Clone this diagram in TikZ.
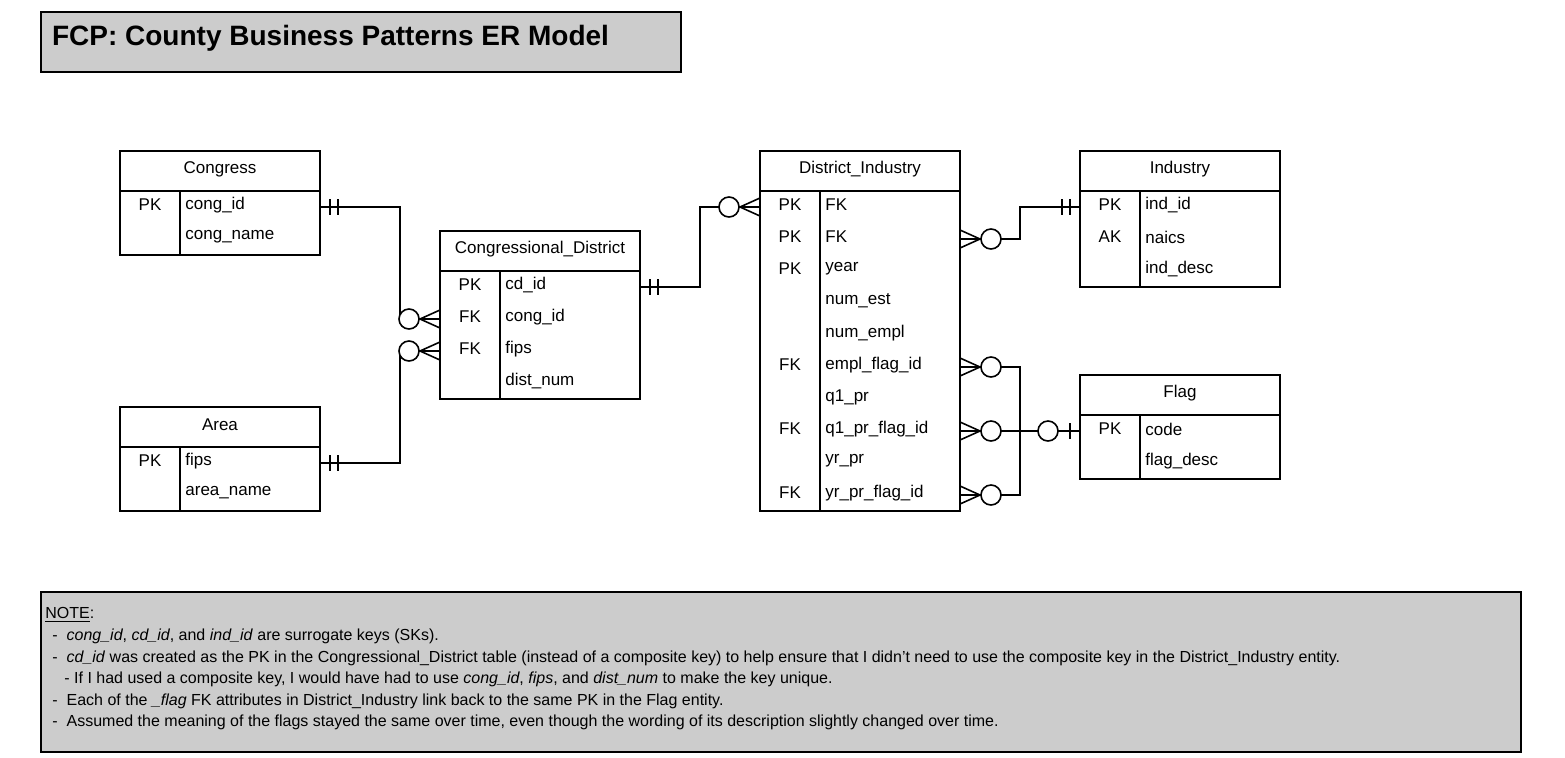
\documentclass[tikz,border=0pt]{standalone}
\usepackage{fontspec}
\setmainfont{Liberation Sans}
\begin{document}
\begin{tikzpicture}[x=0.5pt,y=-0.5pt,
  box/.style={draw,line width=1pt},
  txt/.style={font=\fontsize{8.5}{10}\selectfont,inner sep=0pt},
  lnk/.style={line width=0.8pt},
  ring/.style={draw,fill=white,line width=0.8pt}]
\useasboundingbox (0,0) rectangle (1565,757);
% title and note
\node[box,fill=black!20,minimum width=320pt,minimum height=30pt,anchor=north west] (title) at (40,11) {};
\node[anchor=west,font=\bfseries\fontsize{14}{16}\selectfont] at (45,38) {FCP: County Business Patterns ER Model};
\node[box,fill=black!20,minimum width=740pt,minimum height=80pt,anchor=north west] (note) at (40,591) {};
\begin{scope}[every node/.style={anchor=west,font=\fontsize{8}{10}\selectfont,inner sep=0pt}]
\node at (45,615) {\underline{NOTE}:};
\node at (52,636) {-\ \ \textit{cong\_id}, \textit{cd\_id}, and \textit{ind\_id} are surrogate keys (SKs).};
\node at (52,658) {-\ \ \textit{cd\_id} was created as the PK in the Congressional\_District table (instead of a composite key) to help ensure that I didn't need to use the composite key in the District\_Industry entity.};
\node at (64,679) {- If I had used a composite key, I would have had to use \textit{cong\_id}, \textit{fips}, and \textit{dist\_num} to make the key unique.};
\node at (52,701) {-\ \ Each of the \textit{\_flag} FK attributes in District\_Industry link back to the same PK in the Flag entity.};
\node at (52,722) {-\ \ Assumed the meaning of the flags stayed the same over time, even though the wording of its description slightly changed over time.};
\end{scope}
% tables: \ert{x}{ytop}{name}{rows key/attr}
\newcommand\ert[4]{%
  \draw[box,fill=white] (#1,#2) rectangle ++(200,40);
  \node[txt] at (#1+100,#2+18) {#3};
  \foreach \k/\a [count=\i] in {#4} {
    \node[txt] at (#1+30,#2+40+32*\i-18) {\k};
    \node[txt,anchor=west] at (#1+65,#2+40+32*\i-18) {\a};
    \xdef\nrow{\i}}
  \draw[box] (#1,#2+40) rectangle (#1+200,#2+40+32*\nrow);
  \draw[box] (#1+60,#2+40) -- (#1+60,#2+40+32*\nrow);}
\ert{120}{151}{Congress}{PK/cong\_id,{}/cong\_name}
\ert{440}{231}{Congressional\_District}{PK/cd\_id,FK/cong\_id,FK/fips,{}/dist\_num}
\ert{120}{407}{Area}{PK/fips,{}/area\_name}
\ert{760}{151}{District\_Industry}{PK/FK/cd\_id,PK/FK/ind\_id,PK/year,{}/num\_est,{}/num\_empl,FK/empl\_flag\_id,{}/q1\_pr,FK/q1\_pr\_flag\_id,{}/yr\_pr,FK/yr\_pr\_flag\_id}
\ert{1080}{151}{Industry}{PK/ind\_id,AK/naics,{}/ind\_desc}
\ert{1080}{375}{Flag}{PK/code,{}/flag\_desc}
% connectors
\draw[lnk] (320,207) -- (400,207) -- (400,319) -- (440,319);
\draw[lnk] (320,463) -- (400,463) -- (400,351) -- (440,351);
\draw[lnk] (640,287) -- (700,287) -- (700,207) -- (760,207);
\draw[lnk] (960,239) -- (1020,239) -- (1020,207) -- (1080,207);
\draw[lnk] (960,367) -- (1020,367) -- (1020,495) -- (960,495);
\draw[lnk] (960,431) -- (1080,431);
% one marks
\foreach \x/\y in {330/207,338/207,330/463,338/463,650/287,658/287,1062/207,1070/207,1070/431}
  \draw[lnk] (\x,\y-8) -- (\x,\y+8);
% many marks: edge x, y, direction
\foreach \x/\y/\d in {440/319/-1,440/351/-1,760/207/-1,960/239/1,960/367/1,960/431/1,960/495/1}{
  \draw[lnk] (\x,\y-9) -- (\x+20*\d,\y) -- (\x,\y+9);
  \draw[ring] (\x+31*\d,\y) circle (10);}
\draw[ring] (1048,431) circle (10);
\end{tikzpicture}
\end{document}
